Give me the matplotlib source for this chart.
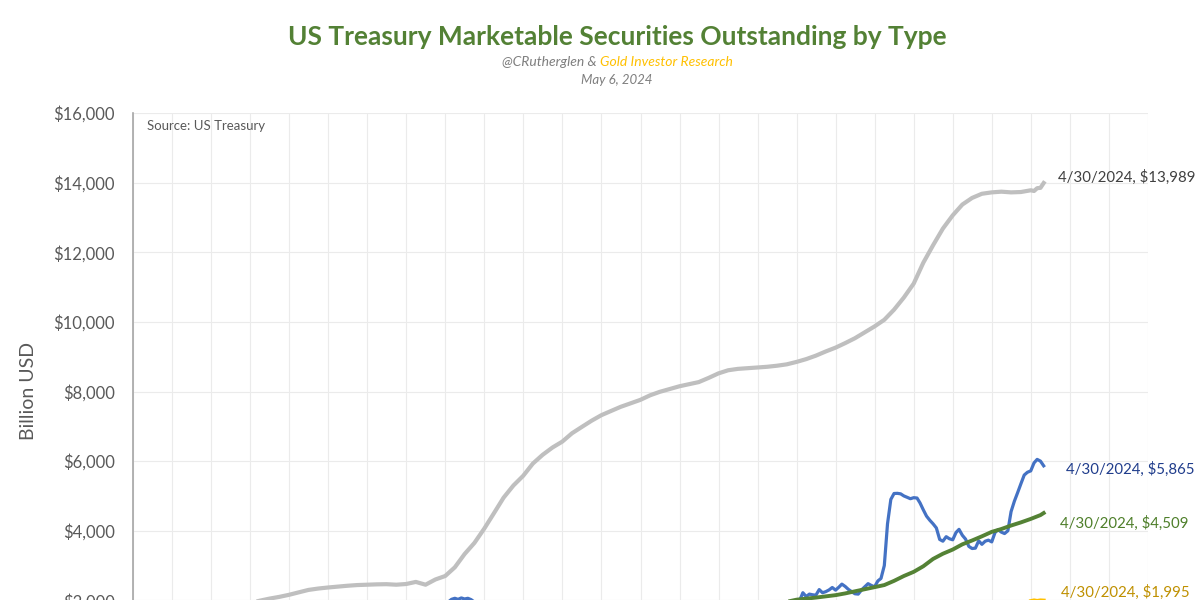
import matplotlib
matplotlib.use("Agg")
import matplotlib.pyplot as plt
import matplotlib.dates as mdates
import pandas as pd

plt.rcParams['font.family'] = ['Lato', 'DejaVu Sans']

# notes (gray), quarter ends, Billion USD
notes_dates = [
    "2001-03", "2001-06", "2001-09", "2001-12", "2002-03", "2002-06", "2002-09", "2002-12",
    "2003-03", "2003-06", "2003-09", "2003-12", "2004-03", "2004-06", "2004-09", "2004-12",
    "2005-03", "2005-06", "2005-09", "2005-12", "2006-03", "2006-06", "2006-09", "2006-12",
    "2007-03", "2007-06", "2007-09", "2007-12", "2008-03", "2008-06", "2008-09", "2008-12",
    "2009-03", "2009-06", "2009-09", "2009-12", "2010-03", "2010-06", "2010-09", "2010-12",
    "2011-03", "2011-06", "2011-09", "2011-12", "2012-03", "2012-06", "2012-09", "2012-12",
    "2013-03", "2013-06", "2013-09", "2013-12", "2014-03", "2014-06", "2014-09", "2014-12",
    "2015-03", "2015-06", "2015-09", "2015-12", "2016-03", "2016-06", "2016-09", "2016-12",
    "2017-03", "2017-06", "2017-09", "2017-12", "2018-03", "2018-06", "2018-09", "2018-12",
    "2019-03", "2019-06", "2019-09", "2019-12", "2020-03", "2020-06", "2020-09", "2020-12",
    "2021-03", "2021-06", "2021-09", "2021-12", "2022-03", "2022-06", "2022-09", "2022-12",
    "2023-03", "2023-06", "2023-09", "2023-12", "2024-01", "2024-02", "2024-03", "2024-04"]
notes_vals = [
    1420, 1410, 1400, 1410, 1440, 1480, 1520, 1580,
    1680, 1760, 1850, 1920, 1990, 2050, 2100, 2160,
    2230, 2300, 2340, 2370, 2395, 2420, 2440, 2450,
    2460, 2465, 2450, 2470, 2530, 2450, 2600, 2700,
    2950, 3330, 3650, 4060, 4500, 4950, 5300, 5580,
    5930, 6180, 6390, 6560, 6800, 6980, 7160, 7320,
    7440, 7560, 7660, 7760, 7890, 7990, 8070, 8150,
    8210, 8270, 8390, 8520, 8610, 8650, 8670, 8690,
    8710, 8740, 8780, 8850, 8930, 9030, 9150, 9260,
    9390, 9530, 9700, 9870, 10060, 10350, 10700, 11100,
    11700, 12200, 12680, 13060, 13370, 13560, 13680, 13720,
    13740, 13720, 13730, 13780, 13760, 13840, 13850, 13989]

# bills (blue)
bills_dates = [
    "2001-06", "2002-06", "2003-06", "2004-06", "2005-06", "2006-06", "2007-06",
    "2008-03", "2008-06", "2008-09", "2008-12", "2009-01", "2009-02", "2009-03",
    "2009-04", "2009-05", "2009-06", "2009-07", "2009-08", "2009-09", "2009-12",
    "2010-06", "2010-12", "2011-06", "2011-12", "2012-06", "2012-12", "2013-06",
    "2013-12", "2014-06", "2014-12", "2015-06", "2015-12", "2016-06", "2016-12",
    "2017-06", "2017-09", "2017-12",
    "2018-01", "2018-02", "2018-03", "2018-04", "2018-05", "2018-06", "2018-07",
    "2018-08", "2018-09", "2018-10", "2018-11", "2018-12", "2019-01", "2019-02",
    "2019-03", "2019-04", "2019-05", "2019-06", "2019-07", "2019-08", "2019-09",
    "2019-10", "2019-11", "2019-12", "2020-01", "2020-02", "2020-03", "2020-04",
    "2020-05", "2020-06", "2020-07", "2020-08", "2020-09", "2020-10", "2020-11",
    "2020-12", "2021-01", "2021-02", "2021-03", "2021-04", "2021-05", "2021-06",
    "2021-07", "2021-08", "2021-09", "2021-10", "2021-11", "2021-12", "2022-01",
    "2022-02", "2022-03", "2022-04", "2022-05", "2022-06", "2022-07", "2022-08",
    "2022-09", "2022-10", "2022-11", "2022-12", "2023-01", "2023-02", "2023-03",
    "2023-04", "2023-05", "2023-06", "2023-07", "2023-08", "2023-09", "2023-10",
    "2023-11", "2023-12", "2024-01", "2024-02", "2024-03", "2024-04"]
bills_vals = [
    740, 810, 920, 960, 1000, 950, 950,
    1030, 1100, 1500, 1880, 1960, 2030, 2060,
    2030, 2070, 2040, 2060, 2020, 1950, 1850,
    1800, 1780, 1600, 1500, 1600, 1620, 1600,
    1590, 1450, 1410, 1430, 1510, 1700, 1800,
    1830, 1850, 1900,
    2010, 2220, 2110, 2180, 2160, 2150, 2310,
    2220, 2250, 2300, 2370, 2295, 2380, 2467,
    2400, 2315, 2250, 2190, 2180, 2300, 2390,
    2480, 2430, 2390, 2560, 2630, 3000, 4200,
    4900, 5070, 5075, 5060, 5000, 4960, 4920,
    4950, 4940, 4800, 4600, 4420, 4300, 4200,
    4080, 3750, 3700, 3830, 3770, 3740, 3950,
    4040, 3870, 3760, 3550, 3490, 3500, 3710,
    3610, 3700, 3730, 3680, 3950, 4030, 3960,
    3920, 4000, 4550, 4850, 5100, 5350, 5600,
    5680, 5720, 5950, 6050, 6000, 5865]

# bonds (green)
bonds_dates = [
    "2001-06", "2003-06", "2005-06", "2007-06", "2008-06", "2009-06", "2010-06",
    "2011-06", "2012-06", "2013-06", "2014-06", "2015-06", "2016-06", "2017-06",
    "2017-12", "2018-03", "2018-06", "2018-09", "2018-12", "2019-03", "2019-06",
    "2019-09", "2019-12", "2020-03", "2020-06", "2020-09", "2020-12", "2021-03",
    "2021-06", "2021-09", "2021-12", "2022-03", "2022-06", "2022-09", "2022-12",
    "2023-03", "2023-06", "2023-09", "2023-12", "2024-03", "2024-04"]
bonds_vals = [
    620, 580, 520, 560, 580, 680, 850,
    1030, 1200, 1380, 1530, 1650, 1780, 1900,
    2020, 2050, 2080, 2115, 2150, 2200, 2260,
    2320, 2380, 2440, 2560, 2700, 2820, 2980,
    3190, 3340, 3460, 3610, 3720, 3840, 3968,
    4050, 4150, 4240, 4340, 4450, 4509]

# TIPS (gold)
tips_dates = [
    "2001-06", "2003-06", "2005-06", "2007-06", "2009-06", "2011-06", "2013-06",
    "2015-06", "2017-06", "2018-06", "2019-06", "2020-06", "2021-06", "2022-06",
    "2022-12", "2023-06", "2023-09", "2023-12", "2024-01", "2024-02", "2024-03", "2024-04"]
tips_vals = [
    130, 170, 310, 450, 560, 710, 900,
    1100, 1230, 1300, 1370, 1420, 1620, 1780,
    1830, 1900, 1960, 1980, 2000, 1985, 2000, 1995]

series = [
    (notes_dates, notes_vals, "#BFBFBF", 3.0, "#404040"),
    (bills_dates, bills_vals, "#4472C4", 2.3, "#203D8C"),
    (bonds_dates, bonds_vals, "#548235", 2.8, "#4E7F2A"),
    (tips_dates, tips_vals, "#FFC000", 2.8, "#BF9000"),
]
# label offsets in pixels (dx, dy)
label_offsets = [(14, 6), (22, -4), (16, -10), (17, 8)]

fig = plt.figure(figsize=(12, 6), dpi=100)
ax = fig.add_axes([133 / 1200, 1 - 670 / 600, 1015 / 1200, 557 / 600])

for (d, v, c, lw, lc), (dx, dy) in zip(series, label_offsets):
    dates = pd.to_datetime(d) + pd.offsets.MonthEnd(0)
    ax.plot(dates, v, color=c, lw=lw, solid_joinstyle="round", zorder=3)
    last = dates[-1]
    ax.annotate(f"{last.month}/{last.day}/{last.year}, ${v[-1]:,}",
                xy=(last, v[-1]), xytext=(dx, dy), textcoords="offset pixels",
                ha="left", va="center", fontsize=10.8, color=lc,
                annotation_clip=False)

ax.set_ylim(0, 16000)
ax.set_xlim(pd.Timestamp("2001-01-01"), pd.Timestamp("2027-01-01"))
ax.set_yticks(range(2000, 16001, 2000))
ax.yaxis.set_major_formatter(plt.FuncFormatter(lambda y, p: f"${y:,.0f}"))
ax.xaxis.set_major_locator(mdates.YearLocator(1))
ax.grid(True, color="#EBEBEB", lw=0.8)
ax.set_axisbelow(True)
for s in ["top", "right", "bottom"]:
    ax.spines[s].set_visible(False)
ax.spines["left"].set_color("#A6A6A6")
ax.spines["left"].set_linewidth(1.2)
ax.tick_params(axis="both", length=0, labelsize=12, labelcolor="#595959")
ax.tick_params(axis="x", labelbottom=False)
ax.tick_params(axis="y", pad=13)

ax.set_ylabel("Billion USD", fontsize=14, color="#595959")
ax.yaxis.set_label_coords(-0.0946, 0.5)

fig.text(617 / 1200, 1 - 37 / 600, "US Treasury Marketable Securities Outstanding by Type",
         ha="center", va="center", fontsize=19, fontweight="bold", color="#538135")
fig.text(0.5, 1 - 62 / 600, "@CRutherglen & ", ha="right", va="center",
         fontsize=10, style="italic", color="#7F7F7F")
fig.text(0.5, 1 - 62 / 600, "Gold Investor Research", ha="left", va="center",
         fontsize=10, style="italic", color="#FFC000")
fig.text(617 / 1200, 1 - 80 / 600, "May 6, 2024", ha="center", va="center",
         fontsize=9.5, style="italic", color="#7F7F7F")
fig.text(147 / 1200, 1 - 126 / 600, "Source: US Treasury", ha="left", va="center",
         fontsize=9.5, color="#595959")

fig.savefig("out.png", dpi=100)
